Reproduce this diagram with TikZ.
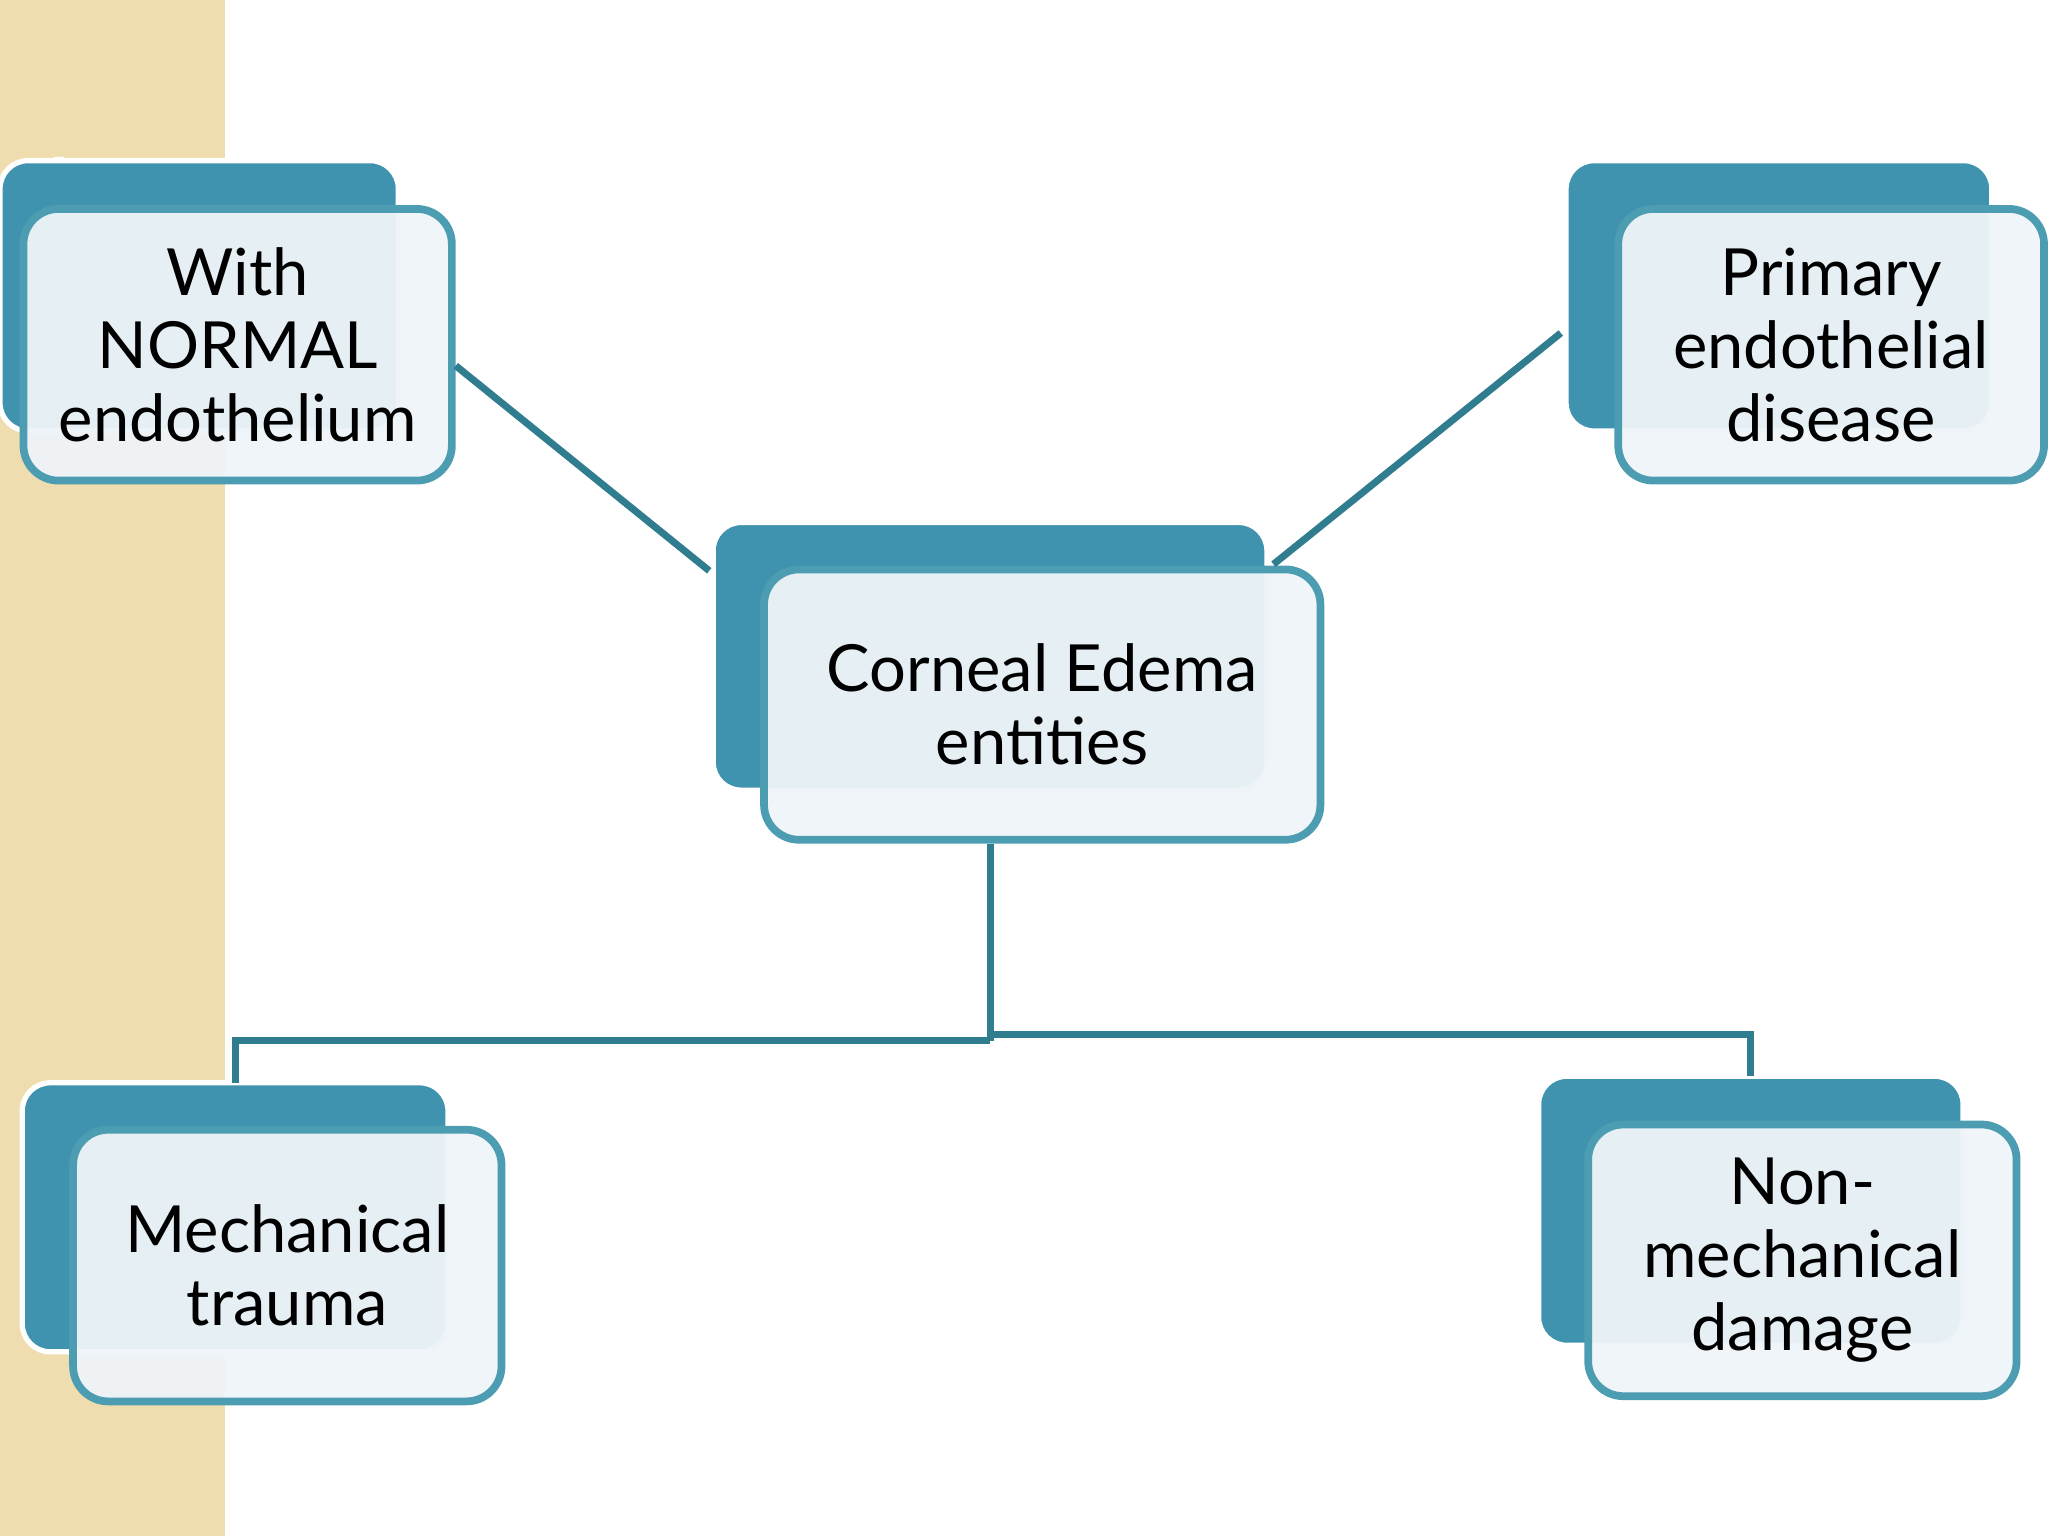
\documentclass[tikz,border=0pt]{standalone}
\usepackage{fontspec}
\setmainfont{Lato}
\definecolor{strip}{HTML}{EFDDB0}
\definecolor{tealback}{HTML}{3F93AE}
\definecolor{tealline}{HTML}{2F7D8E}
\definecolor{frontfill}{HTML}{EEF4F8}
\definecolor{frontline}{HTML}{4C9CB2}
\tikzset{
  back/.style={fill=tealback,draw=white,line width=1.5pt,rounded corners=8pt},
  front/.style={fill=frontfill,fill opacity=0.95,text opacity=1,draw=frontline,line width=2.2pt,rounded corners=10pt,align=center,font=\fontsize{18.5}{20.8}\selectfont,anchor=north west,inner sep=0pt},
  link/.style={draw=tealline,line width=2pt}
}
\begin{document}
\begin{tikzpicture}[x=0.013061cm,y=-0.013061cm]
\useasboundingbox (0,0) rectangle (1568,1176);
\fill[strip] (0,0) rectangle (172,1176);
\draw[white!85!strip,line width=3pt] (45,120) arc (180:90:120);
% back plates
\draw[back] (0,123) rectangle (305,330);
\draw[back] (1199,123) rectangle (1525,330);
\draw[back] (546,400) rectangle (970,605);
\draw[back] (17,829) rectangle (343,1035);
\draw[back] (1178,824) rectangle (1503,1030);
% front boxes
\node[front,minimum width=328*0.013061cm,minimum height=208*0.013061cm] (normal) at (15,157) {With\\NORMAL\\endothelium};
\node[front,minimum width=326*0.013061cm,minimum height=208*0.013061cm] (primary) at (1236,157) {Primary\\endothelial\\disease};
\node[front,minimum width=426*0.013061cm,minimum height=207*0.013061cm] (edema) at (582,433) {Corneal Edema\\entities};
\node[front,minimum width=328*0.013061cm,minimum height=208*0.013061cm] (mech) at (53,862) {Mechanical\\trauma};
\node[front,minimum width=328*0.013061cm,minimum height=208*0.013061cm] (nonmech) at (1213,858) {Non-\\mechanical\\damage};
% connectors
\coordinate (e1) at (543,437);
\coordinate (e2) at (975,432);
\coordinate (a1) at (1195,255);
\coordinate (j1) at (758,797);
\coordinate (j2) at (758,792);
\draw[link] (normal.east |- 0,280) -- (e1);
\draw[link] (a1) -- (e2);
\draw[link] (edema.south -| j1) -- (j1);
\draw[link] (j1) -- (180,797) -- (180,829);
\draw[link] (j2) -- (1340,792) -- (1340,824);
\end{tikzpicture}
\end{document}
